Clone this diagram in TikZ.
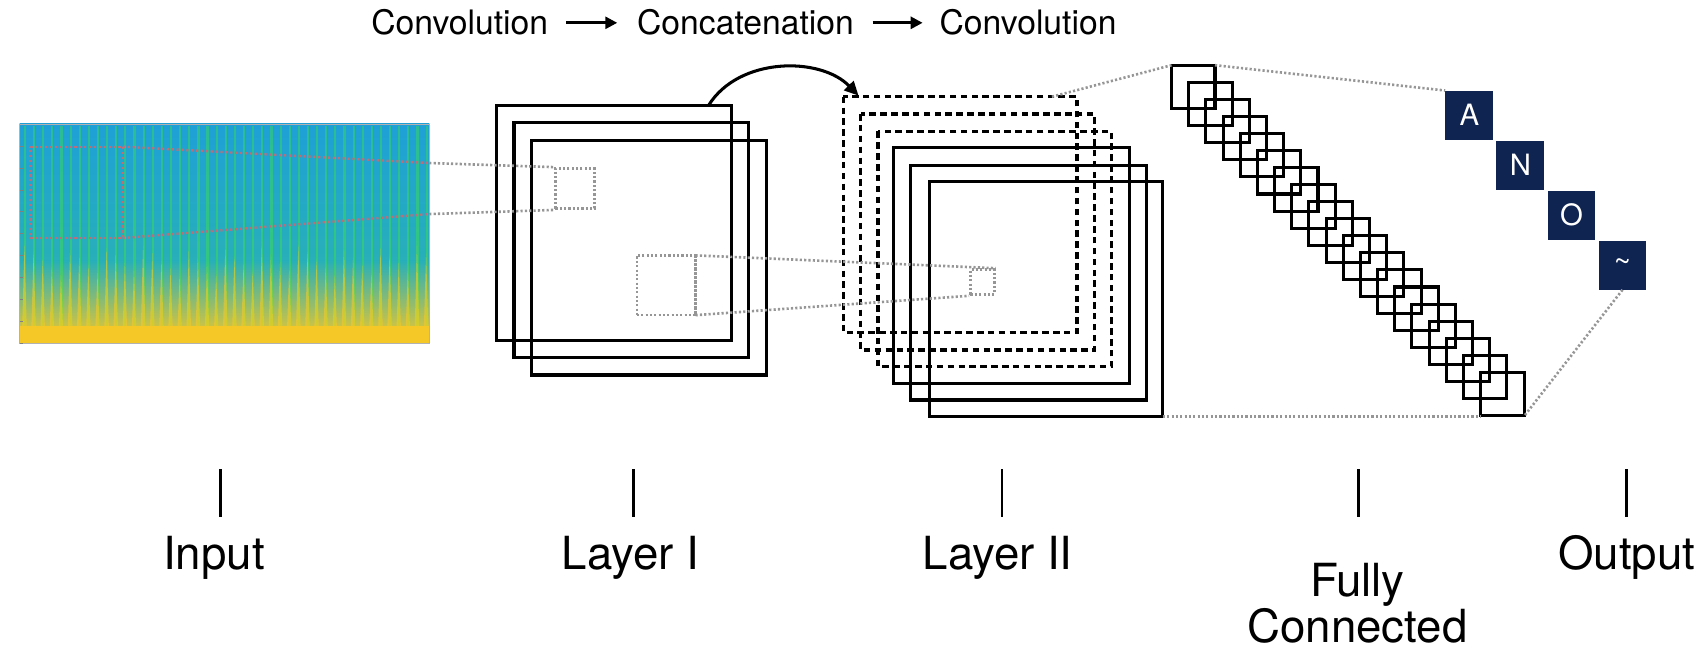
\documentclass[tikz,border=0pt]{standalone}
\usepackage{fontspec}
\setmainfont{TeX Gyre Heros}
\usetikzlibrary{arrows.meta}
\definecolor{navy}{RGB}{16,36,82}
\definecolor{dotgray}{RGB}{150,150,150}
\definecolor{redd}{RGB}{190,110,120}
\definecolor{sblue}{RGB}{30,160,215}
\definecolor{steal}{RGB}{40,175,185}
\definecolor{syel}{RGB}{245,200,40}
\tikzset{
  fmap/.style={draw=black,line width=3pt},
  dmap/.style={draw=black,line width=3pt,dash pattern=on 6pt off 4pt},
  fcbox/.style={draw=black,line width=2.8pt},
  gdot/.style={draw=dotgray,line width=2.4pt,dash pattern=on 2pt off 2pt},
  rdot/.style={draw=redd,line width=2.2pt,dash pattern=on 2pt off 2.5pt},
  outbox/.style={fill=navy,text=white,minimum width=44pt,minimum height=45pt,inner sep=0pt,font=\fontsize{27}{29}\selectfont},
  lab/.style={font=\fontsize{42}{42}\selectfont,align=center},
  ttl/.style={font=\fontsize{31}{34}\selectfont},
  tick/.style={line width=2.6pt},
}
\begin{document}
\begin{tikzpicture}[x=1pt,y=-1pt]
\useasboundingbox (0,0) rectangle (1568,601);
% title
\node[ttl] (t1) at (423,20) {Convolution};
\node[ttl] (t2) at (686,20) {Concatenation};
\node[ttl] (t3) at (946,20) {Convolution};
\coordinate (a1s) at (521,21); \coordinate (a1e) at (568,21);
\coordinate (a2s) at (803,21); \coordinate (a2e) at (849,21);
\draw[line width=2.6pt,-{Triangle[length=11pt,width=11pt]}] (a1s) -- (a1e);
\draw[line width=2.6pt,-{Triangle[length=11pt,width=11pt]}] (a2s) -- (a2e);
% spectrogram
\shade[top color=sblue,bottom color=steal] (18,114) rectangle (395,240);
\shade[top color=steal,bottom color=syel] (18,240) rectangle (395,316);
\foreach \i in {0,...,44}{
  \pgfmathsetmacro{\xx}{22+\i*8.4}
  \fill[green!70!yellow,opacity=0.3] (\xx,116) rectangle ++(2,200);
  \fill[syel,opacity=0.6] (\xx-2,316) -- (\xx+0.5,{225+mod(\i*37,30)}) -- (\xx+3,316) -- cycle;
}
\fill[syel] (18,300) rectangle (395,316);
\draw[gray!60,line width=0.5pt] (18,114) rectangle (395,316);
\foreach \i in {0,...,9}{\draw[gray,line width=0.4pt] (18,{316-\i*20.2}) -- ++(3,0);}
% red dotted region
\coordinate (r1) at (28,135); \coordinate (r2) at (113,135);
\coordinate (r3) at (113,219); \coordinate (r4) at (28,219);
\coordinate (re1) at (395,150); \coordinate (re2) at (395,197);
\draw[rdot] (r1) -- (r2) -- (r3) -- (r4) -- cycle;
\draw[rdot] (r2) -- (re1);
\draw[rdot] (r3) -- (re2);
% layer I
\draw[fmap] (457,97) rectangle (673,313);
\draw[fmap] (473,113) rectangle (689,329);
\draw[fmap] (489,129) rectangle (705,345);
\node[gdot,minimum width=36pt,minimum height=37pt,inner sep=0pt] (sb1) at (529,173.5) {};
\draw[gdot] (re1) -- (sb1.north west);
\draw[gdot] (re2) -- (sb1.south west);
\node[gdot,minimum width=54pt,minimum height=55pt,inner sep=0pt] (sb2) at (613,262.5) {};
\coordinate (sb2a) at (640,235); \coordinate (sb2b) at (640,290);
\draw[gdot] (sb2a) -- (sb2b);
% arrow
\coordinate (ca) at (652,97);
\coordinate (cb) at (790,88);
\draw[line width=2.8pt,-{Triangle[length=13pt,width=12pt]}] (ca) .. controls (680,52) and (755,52) .. (cb);
% layer II
\draw[dmap] (776,89) rectangle (991,306);
\draw[dmap] (792,105) rectangle (1007,322);
\draw[dmap] (808,121) rectangle (1023,337);
\draw[fmap] (822,136) rectangle (1039,353);
\draw[fmap] (838,152) rectangle (1055,368);
\draw[fmap] (855,167) rectangle (1070,383);
\node[gdot,minimum width=22pt,minimum height=23pt,inner sep=0pt] (sb3) at (904,259.5) {};
\draw[gdot] (sb2a) -- (sb3.north east);
\draw[gdot] (sb2b) -- (sb3.south west);
% fully connected
\foreach \i in {0,...,18}{
  \draw[fcbox] ({1078+\i*15.8},{60+\i*15.7}) rectangle ++(40,40);
}
\coordinate (fc1) at (1078,60); \coordinate (fc1r) at (1118,60);
\coordinate (fcl) at (1362.4,383); \coordinate (fclr) at (1402.4,383);
\coordinate (d1) at (968,89); \coordinate (s3) at (1070,383);
\draw[gdot] (d1) -- (fc1);
\draw[gdot] (s3) -- (fcl);
% output
\node[outbox] (oA) at (1352,106) {A};
\node[outbox] (oN) at (1399,152) {N};
\node[outbox] (oO) at (1446,198) {O};
\node[outbox] (oT) at (1493,244) {\raisebox{-3pt}{\textasciitilde}};
\draw[gdot] (fc1r) -- (oA.north west);
\draw[gdot] (oT.south) -- (fclr);
% ticks and labels
\foreach \x in {203,583,922,1250,1497}{
  \draw[tick] (\x,432) -- (\x,476);
}
\node[lab] (l1) at (197,513) {Input};
\node[lab] (l2) at (580,513) {Layer I};
\node[lab] (l3) at (918,513) {Layer II};
\node[lab] (l4) at (1249,555) {Fully\\Connected};
\node[lab] (l5) at (1497,513) {Output};
\end{tikzpicture}
\end{document}
